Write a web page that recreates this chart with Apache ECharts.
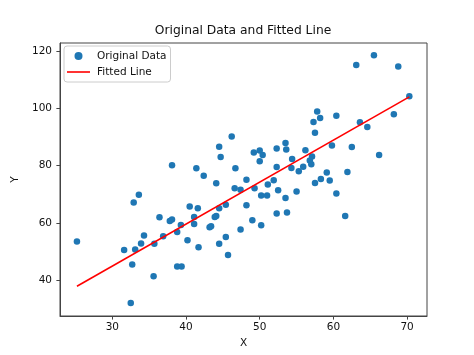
<!DOCTYPE html>
<html>
<head>
<meta charset="utf-8">
<script src="https://cdn.jsdelivr.net/npm/echarts@6/dist/echarts.min.js"></script>
<style>
html,body{margin:0;padding:0;background:#fff;}
#chart{width:474px;height:355px;}
</style>
</head>
<body>
<div id="chart"></div>
<script>
// Scatter data (Original Data)
const dataX = [25.2,38.1,33.6,32.9,36.4,37.8,38.1,39.3,40.5,34.3,33.9,36.9,38.8,31.6,33.1,35.7,32.7,38.8,39.4,35.6,32.5,40.2,41.6,41.1,41.1,41.7,46.2,44.5,44.7,41.4,42.4,44.1,46.7,46.6,47.4,48.2,49.2,50.0,50.4,50.0,52.3,49.3,51.1,51.9,50.2,51.0,52.3,52.5,48.2,44.5,45.4,43.9,44.1,43.2,43.4,47.4,49.0,50.2,52.3,44.5,45.4,45.7,53.7,55.0,53.5,54.4,54.3,55.3,55.9,56.8,57.0,57.8,57.3,58.2,60.4,57.5,63.6,64.6,59.8,62.5,53.5,53.6,56.2,57.1,59.1,58.3,59.5,57.5,61.9,60.4,66.2,61.6,65.5,63.1,68.8,70.3,68.2];
const dataY = [53.5,80.1,69.8,67.1,62.0,60.7,61.2,59.3,65.7,55.6,52.8,55.3,56.8,50.5,50.7,52.7,45.5,44.8,44.8,41.4,32.0,53.9,65.1,62.1,59.6,51.5,90.2,86.6,83.0,79.1,76.5,73.8,79.1,72.1,71.6,75.1,84.6,85.3,83.7,81.5,86.0,72.1,73.4,74.9,69.6,69.6,79.5,71.4,66.2,65.1,66.3,62.1,62.4,58.5,58.8,57.7,60.9,59.2,63.3,52.7,55.1,48.8,63.6,71.0,68.7,82.3,79.2,78.0,79.6,81.8,80.5,98.9,95.2,96.6,97.4,91.5,95.1,93.5,87.0,86.5,87.9,85.6,85.4,83.2,77.6,75.3,74.8,73.9,77.8,70.3,83.7,62.4,118.5,115.1,114.6,104.2,97.9];
// Fitted line endpoints
const fitX = [25.2, 70.3];
const fitY = [37.9, 104.0];
// Tick labels
const xTicks = [30, 40, 50, 60, 70];
const yTicks = [40, 60, 80, 100, 120];

const font = 'DejaVu Sans';
const chart = echarts.init(document.getElementById('chart'), null, {renderer: 'canvas'});
chart.setOption({
  animation: false,
  backgroundColor: '#fff',
  textStyle: {fontFamily: font},
  grid: {left: 60, top: 43, width: 367, height: 273, show: true, borderColor: '#444', borderWidth: 1, containLabel: false, outerBoundsMode: 'none'},
  graphic: [
    {type: 'text', x: 243, y: 31, style: {text: 'Original Data and Fitted Line', fontFamily: font, fontSize: 12.3, fill: '#111', align: 'center', verticalAlign: 'middle'}}
  ],
  legend: {
    orient: 'vertical', left: 64, top: 46,
    padding: [4, 4, 4, 3],
    itemWidth: 23, itemHeight: 8, itemGap: 4,
    backgroundColor: 'rgba(255,255,255,0.8)', borderColor: '#ccc', borderWidth: 1, borderRadius: 3,
    textStyle: {fontFamily: font, fontSize: 10.5, color: '#111', lineHeight: 12, padding: [0, 0, 0, 2]},
    data: [
      {name: 'Original Data', icon: 'circle'},
      {name: 'Fitted Line', icon: 'path://M0,0 L23,0 L23,1.6 L0,1.6 Z', itemStyle: {color: '#ff0000'}}
    ]
  },
  xAxis: {
    type: 'value', min: 22.9, max: 72.7,
    name: 'X', nameLocation: 'middle', nameGap: 20,
    nameTextStyle: {fontFamily: font, fontSize: 10.5, color: '#111'},
    axisLine: {show: true, lineStyle: {color: '#444', width: 1}},
    axisTick: {show: true, length: 3.6, lineStyle: {color: '#444'}, customValues: xTicks},
    axisLabel: {margin: 6, fontFamily: font, fontSize: 10.5, color: '#111', customValues: xTicks},
    splitLine: {show: false}
  },
  yAxis: {
    type: 'value', min: 27.5, max: 122.8,
    name: 'Y', nameLocation: 'middle', nameGap: 31, nameRotate: 90,
    nameTextStyle: {fontFamily: font, fontSize: 10.5, color: '#111'},
    axisLine: {show: true, lineStyle: {color: '#444', width: 1}},
    axisTick: {show: true, length: 3.6, lineStyle: {color: '#444'}, customValues: yTicks},
    axisLabel: {margin: 8, fontFamily: font, fontSize: 10.5, color: '#111', customValues: yTicks},
    splitLine: {show: false}
  },
  series: [
    {
      name: 'Original Data', type: 'scatter', symbolSize: 6.5,
      itemStyle: {color: '#1f77b4', opacity: 1},
      data: dataX.map((x, i) => [x, dataY[i]])
    },
    {
      name: 'Fitted Line', type: 'line', symbol: 'none', showSymbol: false,
      lineStyle: {color: '#ff0000', width: 1.6},
      itemStyle: {color: '#ff0000'},
      data: fitX.map((x, i) => [x, fitY[i]])
    }
  ]
});
</script>
</body>
</html>
